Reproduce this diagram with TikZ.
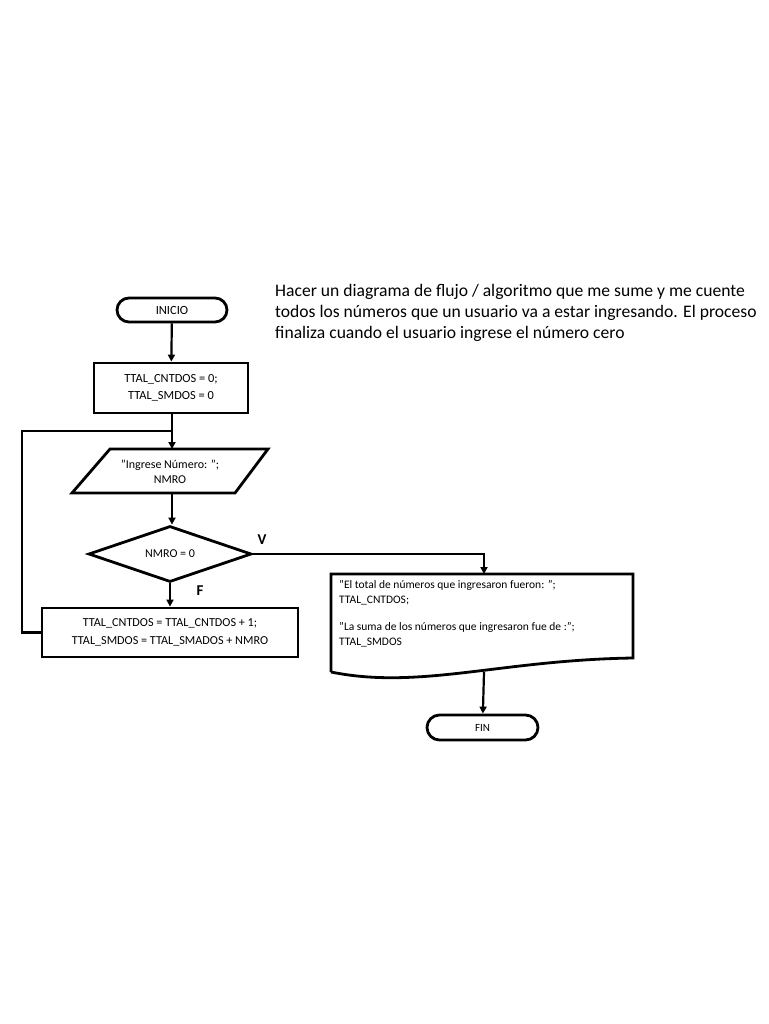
\documentclass[tikz,border=0pt]{standalone}
\usepackage{fontspec}
\setmainfont{Carlito}
\usetikzlibrary{shapes.geometric,shapes.misc,arrows.meta}
\tikzset{
  shapeline/.style={draw=black, line width=2.8pt},
  term/.style={shapeline, rounded rectangle, inner sep=0pt},
  procbox/.style={shapeline, rectangle, inner sep=0pt, align=center},
  decis/.style={shapeline, diamond, aspect=2.9, inner sep=0pt, font=\fontsize{12}{13}\selectfont},
  txt/.style={inner sep=0pt, align=center},
  conn/.style={draw=black, line width=2.2pt},
  arr/.style={conn, -{Triangle[length=7pt,width=7pt]}},
  lbl/.style={inner sep=0pt, font=\fontsize{15}{17}\selectfont\bfseries},
}
\begin{document}
\begin{tikzpicture}[x=1pt,y=-1pt]
\useasboundingbox (0,0) rectangle (768,1024);
% title
\node[anchor=north west, inner sep=0pt, align=left, font=\fontsize{17.6}{21}\selectfont] (title) at (275,284)
 {Hacer un diagrama de flujo / algoritmo que me sume y me cuente\\
  todos los números que un usuario va a estar ingresando. El proceso\\
  finaliza cuando el usuario ingrese el número cero};
% nodes
\node[term, minimum width=110pt, minimum height=24pt, font=\fontsize{12.5}{14}\selectfont] (inicio) at (172,310) {INICIO};
\node[procbox, minimum width=154pt, minimum height=50pt, font=\fontsize{12.4}{17}\selectfont] (init) at (171,388)
 {TTAL\_CNTDOS = 0;\\TTAL\_SMDOS = 0};
% parallelogram (input)
\coordinate (intop) at (172,449);
\coordinate (inbot) at (172,493);
\draw[shapeline, line join=miter] (110,449) -- (268,449) -- (235,493) -- (72,493) -- cycle;
\node[txt, font=\fontsize{12}{15}\selectfont] (input) at (170,472) {"Ingrese Número: ";\\NMRO};
\node[decis, minimum width=163pt, minimum height=56pt] (cond) at (170,554) {NMRO = 0};
\node[procbox, minimum width=256pt, minimum height=49pt, font=\fontsize{12.2}{17.5}\selectfont] (upd) at (170,632.5)
 {TTAL\_CNTDOS = TTAL\_CNTDOS + 1;\\TTAL\_SMDOS = TTAL\_SMADOS + NMRO};
% document shape (output)
\coordinate (outtop) at (484,574);
\coordinate (outbot) at (484,672);
\draw[shapeline, line join=miter] (331,672) -- (331,574) -- (633,574) -- (633,658)
  .. controls (500,660) and (420,690) .. (331,672);
\node[anchor=north west, inner sep=0pt, align=left, font=\fontsize{11.5}{15}\selectfont] (output) at (339,580)
 {"El total de números que ingresaron fueron: ";\\TTAL\_CNTDOS;\\[12pt]
  "La suma de los números que ingresaron fue de :";\\TTAL\_SMDOS};
\node[term, minimum width=111pt, minimum height=25pt, font=\fontsize{11}{13}\selectfont] (fin) at (482.5,727.5) {FIN};
% connectors
\draw[arr] (inicio) -- (init);
\coordinate (join) at (172,431);
\draw[arr] (init.south -| join) -- (intop);
\draw[arr] (inbot) -- (cond.north -| inbot);
\draw[arr] (cond) -- (upd);
\coordinate (loopl) at (22,431);
\draw[conn] (upd.west) -- (upd.west -| loopl) -- (loopl) -- (join);
\draw[arr] (cond.east) -- (cond.east -| outtop) -- (outtop);
\draw[arr] (outbot) -- (fin);
% labels
\node[lbl] (v) at (262,540) {V};
\node[lbl] (f) at (200,591) {F};
\end{tikzpicture}
\end{document}
